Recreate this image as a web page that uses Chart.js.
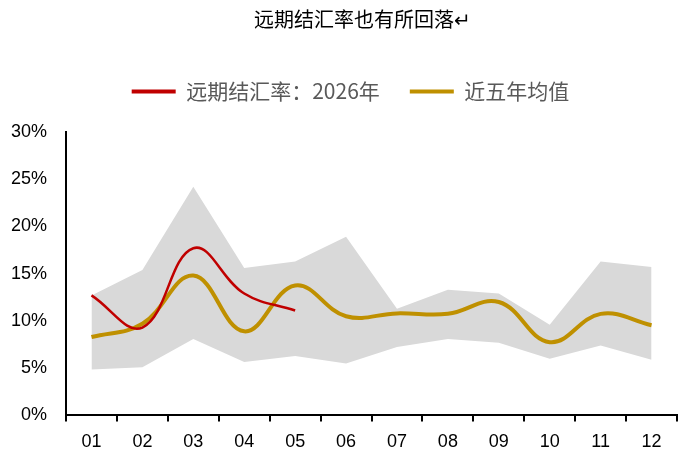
<!DOCTYPE html>
<html>
<head>
<meta charset="utf-8">
<script src="https://cdn.jsdelivr.net/npm/chart.js@4"></script>
<style>
  html, body { margin: 0; padding: 0; background: #fff; }
  #wrap { width: 693px; height: 471px; position: relative; }
</style>
</head>
<body>
<div id="wrap"><canvas id="fwdChart"></canvas></div>
<script>
const months = ["01", "02", "03", "04", "05", "06", "07", "08", "09", "10", "11", "12"];
const rate2026 = [12.7, 9.3, 17.7, 12.9, 11.1];
const avg5y = [8.3, 9.7, 14.8, 8.9, 13.75, 10.5, 10.8, 10.75, 12.0, 7.75, 10.75, 9.55];
const bandHigh = [12.7, 15.4, 24.2, 15.6, 16.3, 18.9, 11.3, 13.3, 12.9, 9.6, 16.3, 15.7];
const bandLow = [4.85, 5.1, 8.1, 5.65, 6.3, 5.5, 7.25, 8.1, 7.7, 6.0, 7.4, 5.9];

const cjkFont = "'Noto Sans CJK SC', 'Noto Sans', sans-serif";
const numFont = "'Liberation Sans', Arial, sans-serif";

// extra room under the legend, and nudge title / legend to the right
const legendGap = {
    id: "legendGap",
    beforeInit(chart) {
        const origFit = chart.legend.fit;
        chart.legend.fit = function () {
            origFit.bind(chart.legend)();
            this.height += 20;
        };
    },
    afterLayout(chart) {
        chart.legend.left += 16;
        chart.legend.right += 16;
        chart.titleBlock.left += 28;
        chart.titleBlock.right += 28;
    },
};

new Chart(document.getElementById("fwdChart"), {
    type: "line",
    data: {
        labels: months,
        datasets: [
            {
                label: "远期结汇率：2026年",
                data: rate2026,
                borderColor: "#c00000",
                backgroundColor: "#c00000",
                borderWidth: 2.5,
                tension: 0.4,
                pointRadius: 0,
                fill: false,
                order: 0,
            },
            {
                label: "近五年均值",
                data: avg5y,
                borderColor: "#bf9000",
                backgroundColor: "#bf9000",
                borderWidth: 4,
                tension: 0.4,
                pointRadius: 0,
                fill: false,
                order: 1,
            },
            {
                label: "low",
                data: bandLow,
                borderWidth: 0,
                pointRadius: 0,
                fill: false,
                order: 3,
            },
            {
                label: "high",
                data: bandHigh,
                borderWidth: 0,
                pointRadius: 0,
                backgroundColor: "#d9d9d9",
                fill: "-1",
                order: 2,
            },
        ],
    },
    options: {
        responsive: true,
        maintainAspectRatio: false,
        animation: false,
        layout: { padding: { left: -8, right: 16, top: 0, bottom: 8 } },
        plugins: {
            title: {
                display: true,
                text: "远期结汇率也有所回落↵",
                color: "#000",
                font: { family: cjkFont, size: 20, weight: "normal" },
                padding: { top: 7, bottom: 20 },
            },
            legend: {
                display: true,
                labels: {
                    filter: (item) => item.datasetIndex < 2,
                    generateLabels: (chart) =>
                        chart.data.datasets.map((ds, i) => ({
                            text: ds.label,
                            fillStyle: ds.borderColor,
                            strokeStyle: ds.borderColor,
                            lineWidth: 0,
                            datasetIndex: i,
                            fontColor: "#595959",
                        })),
                    boxWidth: 44,
                    boxHeight: 4,
                    color: "#595959",
                    font: { family: cjkFont, size: 21 },
                    padding: 30,
                },
            },
            tooltip: { enabled: false },
        },
        scales: {
            x: {
                offset: true,
                grid: {
                    offset: true,
                    drawOnChartArea: false,
                    drawTicks: true,
                    tickLength: 6,
                    color: "#000",
                    lineWidth: 2,
                },
                border: { color: "#000", width: 2 },
                ticks: {
                    color: "#000",
                    font: { family: numFont, size: 18 },
                    padding: 10,
                },
            },
            y: {
                min: 0,
                max: 30,
                grid: { display: false, drawTicks: false },
                border: { color: "#000", width: 2 },
                ticks: {
                    stepSize: 5,
                    color: "#000",
                    font: { family: numFont, size: 18 },
                    padding: 19,
                    callback: (v) => v + "%",
                },
            },
        },
    },
    plugins: [legendGap],
});
</script>
</body>
</html>
